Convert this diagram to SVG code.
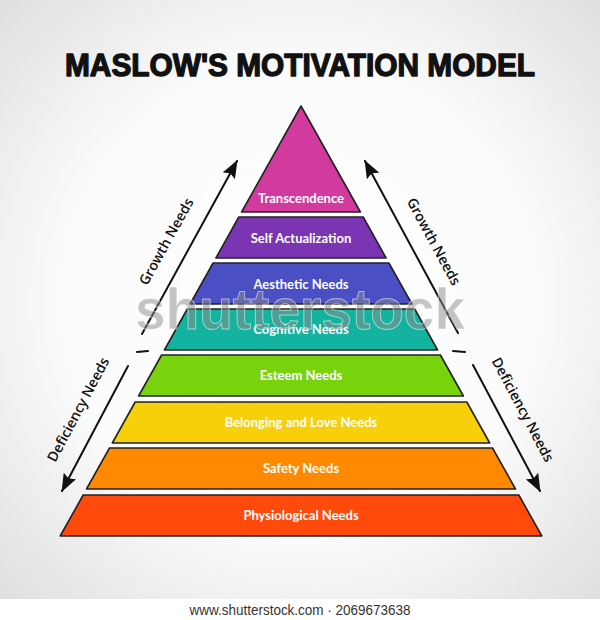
<svg xmlns="http://www.w3.org/2000/svg" width="600" height="620" viewBox="0 0 600 620">
  <defs>
    <radialGradient id="bg" cx="300" cy="300" r="430" gradientUnits="userSpaceOnUse">
      <stop offset="0" stop-color="#ffffff"/>
      <stop offset="0.55" stop-color="#fbfbfb"/>
      <stop offset="1" stop-color="#dedede"/>
    </radialGradient>
    <marker id="ah" viewBox="0 0 18 14" refX="17" refY="7" markerWidth="18" markerHeight="14" markerUnits="userSpaceOnUse" orient="auto">
      <path d="M0,0 L18,7 L0,14 L3,7 Z" fill="#111"/>
    </marker>
    <style>
      .layer { stroke: #222; stroke-width: 1.6; stroke-linejoin: round; }
      .lbl { font-family: Lato, "Open Sans", sans-serif; font-weight: bold; font-size: 13px; fill: #ffffff; text-anchor: middle; }
      .side { font-family: "Open Sans", Lato, sans-serif; font-weight: 600; font-size: 14px; fill: #111; text-anchor: middle; }
      .arrow { stroke: #111; stroke-width: 2; fill: none; stroke-linecap: round; }
    </style>
  </defs>

  <rect x="0" y="0" width="600" height="620" fill="url(#bg)"/>
  <rect x="0" y="599" width="600" height="21" fill="#ffffff"/>

  <text x="65" y="76" font-family="'Liberation Sans', Arial, sans-serif" font-weight="bold" font-size="32" textLength="470" lengthAdjust="spacingAndGlyphs" fill="#111" stroke="#111" stroke-width="1.4" stroke-linejoin="round">MASLOW'S MOTIVATION MODEL</text>

  <g id="transcendence">
    <polygon class="layer" points="301,106 360.4,212 241.6,212" fill="#D33A9E"/>
    <text class="lbl" x="301" y="203">Transcendence</text>
  </g>
  <g id="self-actualization">
    <polygon class="layer" points="238.8,217 363.2,217 386.1,258 215.9,258" fill="#7B35B2"/>
    <text class="lbl" x="301" y="243">Self Actualization</text>
  </g>
  <g id="aesthetic-needs">
    <polygon class="layer" points="213.1,263 388.9,263 411.9,304 190.1,304" fill="#4B4FC4"/>
    <text class="lbl" x="301" y="288.5">Aesthetic Needs</text>
  </g>
  <g id="cognitive-needs">
    <polygon class="layer" points="187.3,309 414.7,309 437.6,350 164.4,350" fill="#14B39F"/>
    <text class="lbl" x="301" y="334">Cognitive Needs</text>
  </g>
  <g id="esteem-needs">
    <polygon class="layer" points="161.6,355 440.4,355 463.4,396 138.6,396" fill="#78D20C"/>
    <text class="lbl" x="301" y="380">Esteem Needs</text>
  </g>
  <g id="belonging-love-needs">
    <polygon class="layer" points="135.2,402 466.8,402 489.7,443 112.3,443" fill="#F7CF0B"/>
    <text class="lbl" x="301" y="427">Belonging and Love Needs</text>
  </g>
  <g id="safety-needs">
    <polygon class="layer" points="109.5,448 492.5,448 515.5,489 86.5,489" fill="#FF8A02"/>
    <text class="lbl" x="301" y="473">Safety Needs</text>
  </g>
  <g id="physiological-needs">
    <polygon class="layer" points="83.2,495 518.8,495 541.8,536 60.2,536" fill="#FF4A0C"/>
    <text class="lbl" x="301" y="520">Physiological Needs</text>
  </g>

  <g id="connectors">
    <line class="arrow" x1="142" y1="334" x2="237" y2="161" marker-end="url(#ah)"/>
    <line class="arrow" x1="128" y1="366" x2="62" y2="491" marker-end="url(#ah)"/>
    <line class="arrow" x1="458" y1="333" x2="365" y2="161" marker-end="url(#ah)"/>
    <line class="arrow" x1="473" y1="365" x2="540" y2="491" marker-end="url(#ah)"/>
    <line class="arrow" x1="137" y1="352" x2="148" y2="351"/>
    <line class="arrow" x1="453" y1="351" x2="465" y2="352"/>
  </g>

  <g id="side-labels">
    <text class="side" transform="translate(167,242) rotate(-61)" y="4">Growth Needs</text>
    <text class="side" transform="translate(79,410) rotate(-62)" y="4">Deficiency Needs</text>
    <text class="side" transform="translate(433,242) rotate(61.5)" y="4">Growth Needs</text>
    <text class="side" transform="translate(522,410) rotate(62)" y="4">Deficiency Needs</text>
  </g>

  <text x="300" y="329" text-anchor="middle" font-family="'Liberation Sans', Arial, sans-serif" font-weight="bold" font-size="58" textLength="330" lengthAdjust="spacingAndGlyphs" fill="#8c8c8c" fill-opacity="0.5" stroke="#ffffff" stroke-opacity="0.5" stroke-width="1">shutterstock</text>

  <text x="300" y="615" text-anchor="middle" font-family="'Liberation Sans', Arial, sans-serif" font-size="14" textLength="221" lengthAdjust="spacingAndGlyphs" fill="#333">www.shutterstock.com · 2069673638</text>
</svg>
